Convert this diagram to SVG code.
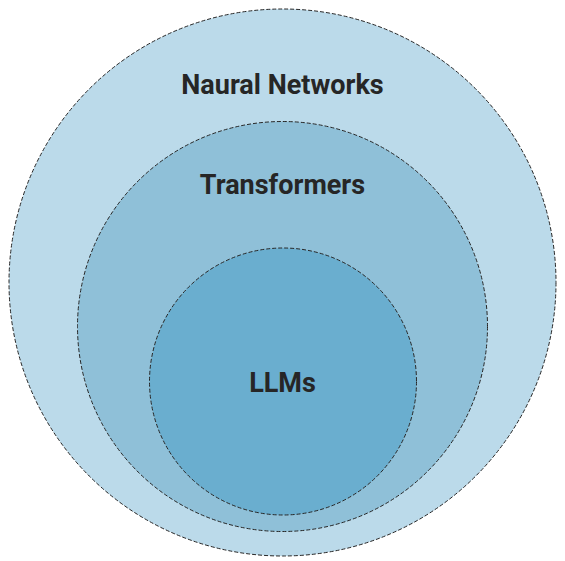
<svg xmlns="http://www.w3.org/2000/svg" width="565" height="561" viewBox="0 0 565 561">
<style>
.c{stroke:#262626;stroke-width:1;stroke-dasharray:4 2}
.t{font-family:Roboto,"Liberation Sans",sans-serif;font-weight:bold;font-size:27px;fill:#262626;text-anchor:middle}
</style>
<rect width="565" height="561" fill="#ffffff"/>
<g id="neural-networks">
<circle class="c" cx="282.5" cy="282.5" r="273.5" fill="#bbdaea"/>
<text class="t" x="282.5" y="93.5">Naural Networks</text>
</g>
<g id="transformers">
<circle class="c" cx="282.5" cy="326.5" r="205" fill="#8fc0d8"/>
<text class="t" x="282.5" y="194">Transformers</text>
</g>
<g id="llms">
<circle class="c" cx="283" cy="381.5" r="133.5" fill="#6aaecf"/>
<text class="t" x="282.5" y="392">LLMs</text>
</g>
<g id="connectors"/>
</svg>
